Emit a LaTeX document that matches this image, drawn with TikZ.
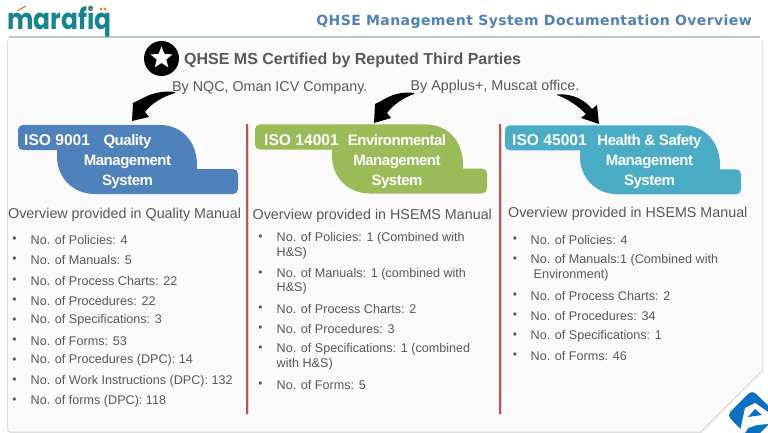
\documentclass[tikz,border=0pt]{standalone}
\usepackage{fontspec}
\setmainfont{Liberation Sans}
\newfontfamily\titlefont[LetterSpace=3]{DejaVu Sans}
\newfontfamily\tightfont[LetterSpace=-3.3]{Liberation Sans}
\newfontfamily\logofont{Poppins}
\usetikzlibrary{shapes.geometric}
\definecolor{txt}{HTML}{595959}
\definecolor{qblue}{HTML}{4F81BD}
\definecolor{egreen}{HTML}{9BBB59}
\definecolor{hcyan}{HTML}{4BACC6}
\definecolor{sep}{HTML}{C0504D}
\definecolor{teal}{HTML}{17858F}
\definecolor{panel}{HTML}{FAFAFA}
\definecolor{cornerblue}{HTML}{0B6FC4}
\tikzset{
 item/.style={anchor=west,text=txt,font=\fontsize{12.6}{14.5}\selectfont,inner sep=0pt,align=left},
 bulletmark/.style={anchor=center,text=txt,font=\fontsize{12}{12}\selectfont,inner sep=0pt},
 head/.style={anchor=west,text=txt,font=\fontsize{14.3}{16}\selectfont,inner sep=0pt},
 byline/.style={anchor=west,text=txt,font=\fontsize{14.3}{16}\selectfont,inner sep=0pt},
 isolabel/.style={anchor=west,text=white,font=\bfseries\fontsize{15.6}{18}\selectfont,inner sep=0pt},
 sysname/.style={text=white,font=\tightfont\bfseries\fontsize{15}{20}\selectfont,inner sep=0pt,align=center},
 sepline/.style={draw=sep,line width=1.6pt},
 blockarrow/.style={fill=black,draw=none}
}
% left, lobe left, lobe right, right, y shift, colour
\newcommand{\cloud}[6]{%
 \begin{scope}[shift={(0,#5)}]
 \fill[#6] (#1+4,125) -- (#3-37,125) .. controls (#3-15,125) and (#3,142) .. (#3,165)
  -- (#3,169) -- (#4-5,169) .. controls (#4-2,169) and (#4,171) .. (#4,174)
  -- (#4,189) .. controls (#4,192) and (#4-2,194) .. (#4-5,194)
  -- (#2+38,194) .. controls (#2+16,194) and (#2,178) .. (#2,156) -- (#2,150)
  -- (#1+5,150) .. controls (#1+2,150) and (#1,148) .. (#1,145) -- (#1,130)
  .. controls (#1,127) and (#1+2,125) .. (#1+5,125) -- cycle;
 \end{scope}}
\begin{document}
\begin{tikzpicture}[x=1pt,y=-1pt]
\useasboundingbox (0,0) rectangle (768,433);
\fill[white] (0,0) rectangle (768,433);
% panel
\fill[black!13] (7,41) -- (763,41) -- (763,371) -- (701,433) -- (12,433) .. controls (8,433) and (7,431) .. (7,428) -- cycle;
\fill[panel] (8,40) -- (762,40) -- (762,370) -- (700,431.5) -- (13,431.5) .. controls (9,431.5) and (8,430) .. (8,427) -- cycle;
\draw[color={rgb,255:red,176;green,203;blue,200},line width=1.5pt] (9,37) -- (760,37);
% logo
\node[anchor=base,inner sep=0pt,text=teal,xscale=.86,transform shape,font=\logofont\bfseries\fontsize{29}{29}\selectfont] (logo) at (59.5,30) {marafiq};
\draw[color=orange!85!black,line width=1pt] (17,11) -- (26,6);
\fill[orange] (91.5,9) circle (1.4);
\fill[orange] (101,9) circle (1.6);\fill[orange] (105,9) circle (1.6);
% title
\node[anchor=east,inner sep=0pt,text=qblue,font=\titlefont\bfseries\fontsize{14}{16}\selectfont] (title) at (752,21.5) {QHSE Management System Documentation Overview};
% star
\node[circle,fill=black,minimum size=35pt,inner sep=0pt] (badge) at (161.5,58.5) {};
\node[star,star points=5,star point ratio=2.3,fill=white,minimum size=23pt,inner sep=0pt] (starmark) at (161.5,58) {};
\node[anchor=west,inner sep=0pt,text=txt,font=\bfseries\fontsize{16}{18}\selectfont] (certified) at (184,60.5) {QHSE MS Certified by Reputed Third Parties};
\node[byline] (nqc) at (172,87.5) {By NQC, Oman ICV Company.};
\node[byline] (applus) at (410.5,86.5) {By Applus+, Muscat office.};
% arrows
\fill[blockarrow] (175,92) .. controls (160,90) and (148,95) .. (139,100) -- (133,103) -- (132,121) -- (149,117) -- (145,112) .. controls (152,103) and (162,97) .. (175,93) -- cycle;
\fill[blockarrow] (414,93) .. controls (400,91) and (389,96) .. (381,101) -- (375,104) -- (374,123) -- (391,118) -- (387,113) .. controls (394,104) and (403,98) .. (414,94) -- cycle;
\fill[blockarrow] (557,94.5) .. controls (572,93) and (585,100) .. (592,109) -- (597,105) -- (599,124) -- (581,118) -- (586,114) .. controls (578,106) and (568,99) .. (557,95) -- cycle;
% clouds
\cloud{18}{57}{197}{238}{0}{qblue}
\cloud{255}{332}{463}{487}{-0.5}{egreen}
\cloud{505}{580}{720}{741}{0.3}{hcyan}
\node[isolabel] (isoa) at (24,140) {ISO 9001};
\node[sysname] (qa) at (127.5,161.5) {Quality\\Management\\System};
\node[isolabel] (isob) at (264,140) {ISO 14001};
\node[sysname] (qb) at (397,161.5) {Environmental\\Management\\System};
\node[isolabel] (isoc) at (512,140) {ISO 45001};
\node[sysname] (qc) at (649.5,162) {Health \& Safety\\Management\\System};
% separators
\draw[sep!55!white,line width=1pt,opacity=.5] (248.6,125) -- (248.6,414);
\draw[sep!55!white,line width=1pt,opacity=.5] (501,125) -- (501,414);
\draw[sepline] (247.2,124.5) -- (247.2,413.5);
\draw[sepline] (499.7,124.5) -- (499.7,413.5);
% column 1
\node[head] (h1) at (8,214.5) {Overview provided in Quality Manual};
\foreach \t/\y in {No. of Policies: 4/240,No. of Manuals: 5/260,No. of Process Charts: 22/280.5,No. of Procedures: 22/300.5,No. of Specifications: 3/320.5,No. of Forms: 53/340.5,No. of Procedures (DPC): 14/360.5,No. of Work Instructions (DPC): 132/381,No. of forms (DPC): 118/401}{
 \node[bulletmark] at (14.5,\y) {•};
 \node[item] at (30.5,\y) {\t};
}
% column 2
\node[head] (h2) at (252.5,215.5) {Overview provided in HSEMS Manual};
\foreach \t/\y in {No. of Policies: 1 (Combined with\\H\&S)/245.5,No. of Manuals: 1 (combined with\\H\&S)/281,No. of Process Charts: 2/309,No. of Procedures: 3/329,No. of Specifications: 1 (combined\\with H\&S)/356.5,No. of Forms: 5/384.5}{
 \node[item] at (276.5,\y) {\t};
}
\foreach \y in {238,273.5,309,329,349,384.5}{\node[bulletmark] at (260.5,\y) {•};}
% column 3
\node[head] (h3) at (508,213.5) {Overview provided in HSEMS Manual};
\foreach \t/\y in {No. of Policies: 4/240,No. of Process Charts: 2/295.5,No. of Procedures: 34/316,No. of Specifications: 1/336,No. of Forms: 46/356}{
 \node[item] at (530.5,\y) {\t};
}
\node[item] at (530.5,267.5) {No. of Manuals:1 (Combined with\\\hspace{3pt}Environment)};
\foreach \y in {240,260,295.5,316,336,356}{\node[bulletmark] at (515,\y) {•};}
% corner logo
\begin{scope}
\clip (0,0) rectangle (768,433);
\fill[cornerblue,rounded corners=5pt] (752,390) -- (778,415) -- (752,441) -- (727,415) -- cycle;
\fill[white] (740,431) -- (745,408) -- (755,403) -- (768,412) -- (768,424) -- (757,425) -- (748,428) -- (745,433) -- cycle;
\fill[cornerblue] (748,417) -- (755,409) -- (762,415) -- cycle;
\end{scope}
\end{tikzpicture}
\end{document}
